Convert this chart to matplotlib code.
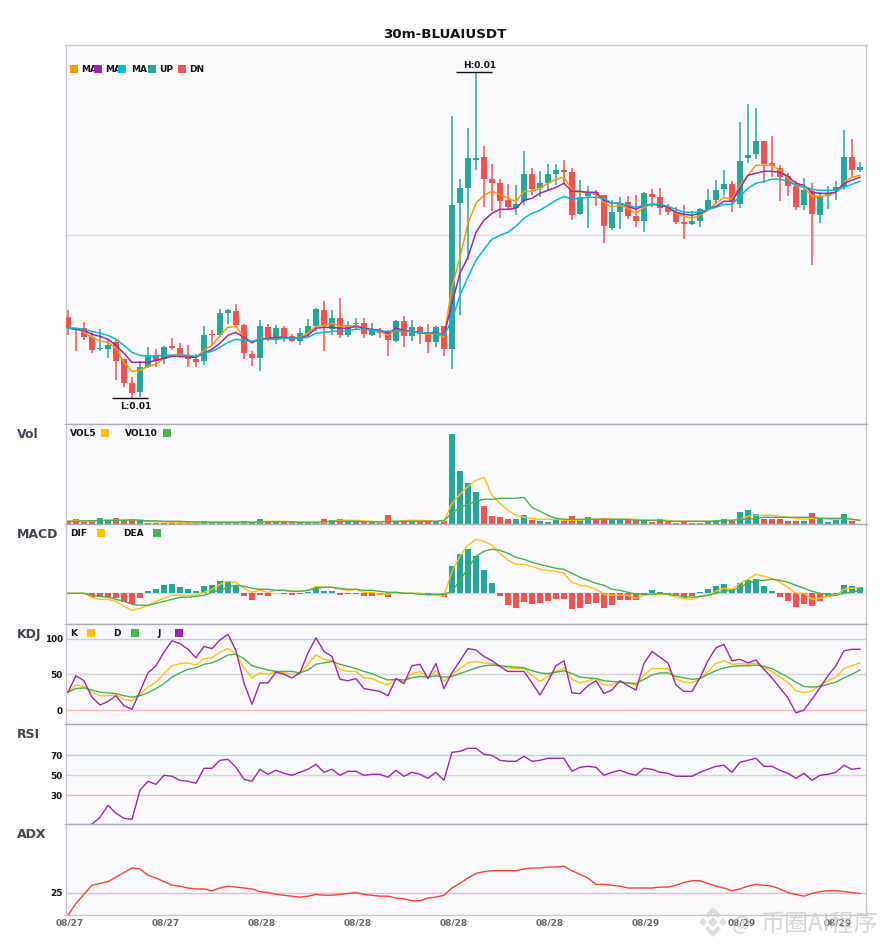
import matplotlib
matplotlib.use("Agg")
import matplotlib.pyplot as plt
from matplotlib.patches import Polygon, Rectangle
import numpy as np

TITLE = "30m-BLUAIUSDT"
X_TICK_POS = [0, 12, 24, 36, 48, 60, 72, 84, 96]
X_TICK_LABELS = ["08/27", "08/27", "08/28", "08/28", "08/28", "08/28", "08/29", "08/29", "08/29"]

# candle values, in chart units (the source chart shows no price scale)
OPEN = [107,96,96,87,75,75,82,65,41,32,57,69,65,78,76,68,65,63,90,89,111,113,99,70,66,97,84,96,88,83,90,98,114,95,
        106,89,100,101,89,94,93,83,103,88,97,91,82,98,75,221,236,264,267,245,241,224,216,223,250,236,241,250,254,252,210,228,232,
        229,196,212,222,208,203,230,227,216,212,202,200,203,215,224,235,240,220,266,270,283,261,256,248,238,219,233,209,228,233,237,267,254]
CLOSE = [96,95,87,74,76,79,63,41,31,57,69,63,77,76,69,65,62,89,89,111,114,99,71,66,98,85,96,87,83,91,98,115,98,106,
         89,99,101,90,95,91,84,103,88,97,90,82,97,75,219,236,266,266,245,241,223,217,220,250,235,241,250,254,252,209,227,232,229,
         198,212,221,208,203,231,227,216,212,202,200,203,215,224,234,240,222,263,269,283,260,258,247,238,217,234,210,228,231,237,267,254,257]
HIGH = [114,96,102,92,95,84,84,65,47,63,77,75,78,86,81,79,70,98,94,115,115,120,100,73,104,100,99,98,90,96,105,116,123,114,
        126,103,106,106,101,96,94,104,108,104,98,100,98,98,308,245,296,352,278,260,245,240,239,273,256,253,260,260,264,256,244,238,234,
        229,224,227,228,229,232,235,236,220,217,219,213,216,235,244,254,243,302,320,316,283,288,259,251,243,246,241,232,238,243,294,285,262]
LOW = [89,73,84,71,73,66,44,37,26,27,56,57,60,74,66,57,57,59,79,87,100,96,65,58,53,83,80,82,82,79,86,93,73,89,
       86,87,95,86,88,86,68,82,77,83,80,71,77,68,55,109,164,254,217,213,206,214,209,219,229,227,234,239,240,204,209,196,218,
       181,194,195,205,197,192,217,209,209,200,185,199,197,214,220,228,212,216,261,265,241,247,223,228,214,214,159,201,215,224,234,246,252]

MA_A = [96,96,92,87,83,82,76,62,53,54,58,60,66,69,70,68,67,74,79,89,97,98,87,81,86,86,87,87,86,87,91,98,99,101,98,
        98,99,96,94,93,89,94,93,93,92,90,91,87,137,167,201,221,229,233,230,226,223,233,233,236,241,245,247,234,232,232,231,
        222,217,219,216,211,217,220,220,217,211,208,206,209,214,221,227,225,239,249,259,259,259,254,246,238,237,228,228,229,232,242,247,249]
MA_B = [96,95,94,90,88,85,79,71,62,62,62,64,66,68,68,67,67,71,75,81,89,92,87,82,85,86,87,87,86,86,89,96,97,97,96,
        96,98,96,95,94,91,96,94,93,92,91,92,89,121,151,167,192,204,211,215,215,216,224,226,231,234,237,241,233,233,232,232,
        224,221,221,218,215,219,220,219,217,212,210,209,211,215,218,223,223,236,249,251,253,253,252,248,241,239,232,231,231,232,241,244,247]
MA_C = [96,96,95,93,91,89,85,79,72,69,68,68,69,69,69,69,68,71,73,77,82,85,84,83,85,85,85,86,86,86,87,91,92,93,93,
        94,95,95,94,93,93,93,93,93,92,91,91,89,104,129,147,164,175,185,189,192,198,206,211,214,219,224,228,225,226,227,227,
        226,221,221,219,217,219,220,220,218,215,212,212,212,215,217,220,220,228,236,241,243,245,245,243,239,238,235,234,234,234,237,240,243]

VOLUME = [3,5,2,3,6,3,6,3,5,4,1.5,1.5,1.5,1,2,2,1,3,2,2,2,2,3,2,5,2,2,2,2,1,1.5,2,5,4,5,2,2,2,2,1,9,3,3,3,3,4,2,3,
          90,53,41,32,18,8,7,5,5,9,4,3,2,4,3,8,4,7,4,6,4,5,5,5,3,2,5,2,1.5,2,1.5,1.5,2,4,5,3,12,14,10,5,5,5,3,3,3,11,5,2,5,10,3,0.5]
VOL5 = [3,4,3.5,3,4,4,4.5,4,4.5,4.5,3,2.5,2.5,2,1.5,1.5,1.5,2,2,2,2,2,2,2,2.5,3,3,3,2.5,2,2,1.5,2,3,4,4,4,3.5,3,2,3,3,3.5,4,4,3.5,3,3,
        21,30,38,44,47,29,21,14,9,7,6,5,5,5,4,4,4,5,5,6,5,5,5,5,4,4,4,4,3,3,3,3,3,3,4,4,5,8,9,9,9,8,7,6,5,6,6,5,5,6,5,4]
VOL10 = [3,3,3.5,3.5,4,4,4,4,4.5,4,3.5,3.5,3,3,3,2.5,2.5,2,2,2,2,2,2,2,2.5,2.5,2.5,2.5,2.5,2,2,2,2.5,3,3,3,3,2.5,2.5,2.5,3,3,3,3,3,3,3,4,
         11,17,20,23,25,25,26,26,26,27,17,13,9,6,5,5,5,5,5,5,5,5,5,4,4,4,4,3,3,3,3,3,3,3,4,4,5,5,6,7,7,7,7,7,7,7,6,6,6,6,5,4]

MACD_HIST = [0,0,0,-4,-4,-4,-5,-9,-11,-5,2,4,8,9,6,4,2,7,8,12,12,8,-3,-7,-2,-3,0,-0.5,-2,-1,1,6,2,2,-2,-0.7,-0.7,-3,-3,-2,-4,0,-1,0,0,-1,0,-4,
             27,39,44,37,23,10,-3,-12,-15,-9,-11,-10,-8,-6,-6,-16,-15,-11,-10,-15,-12,-7,-7,-7,-2,3,1,-1,-3,-5,-3,1,4,7,9,4,10,13,14,7,2,-4,-8,-14,-11,-13,-8,-4,-1,8,7,6]
DIF = [0,0,0,-4,-6,-6,-8,-13,-17,-15,-12,-8,-5,-2,-2,-2,-2,1,4,9,12,11,5,1,3,1,3,3,2,2,3,7,6,6,4,3,4,1,1,-1,-1,1,0,0,0,-2,-2,-3,
       22,37,48,54,52,48,40,33,29,29,27,24,23,22,20,11,8,7,4,-1,-2,-2,-2,-5,-2,-1,-1,-1,-4,-5,-6,-3,-2,2,5,4,10,14,19,17,15,11,6,0,0,-6,-5,-3,-2,4,5,6]
DEA = [0,0,0,-2,-3,-4,-6,-8,-11,-12,-12,-10,-8,-6,-4,-4,-3,-2,1,3,6,8,7,5,4,4,3,3,2,2,3,5,6,6,5,4,4,3,3,2,1,1,0,0,-1,-1,-1,-1,
       2,13,25,37,42,44,43,40,36,34,31,29,27,25,24,20,16,13,10,8,4,3,1,-1,-1,-1,0,-1,-2,-3,-4,-3,-2,0,2,3,6,10,13,13,14,13,11,8,5,2,0,-1,-2,0,1,3]

K = [25,35,33,25,20,20,21,15,13,22,32,39,51,62,65,66,63,72,73,81,86,78,59,45,52,50,54,52,50,52,64,77,71,69,57,54,54,45,44,39,35,44,39,51,54,45,55,40,
     50,58,66,68,66,65,62,59,58,58,49,40,47,54,59,43,38,41,44,35,35,39,38,35,49,58,58,58,44,39,38,44,54,65,69,64,65,64,66,59,54,46,39,27,24,27,35,41,46,58,62,66]
D = [25,30,31,28,25,24,23,20,18,20,24,30,37,46,52,57,59,64,66,71,77,78,72,62,59,56,54,54,54,52,56,64,66,68,64,61,58,54,51,46,42,43,42,45,47,46,48,46,
     47,51,55,59,62,63,62,61,60,59,55,52,51,53,55,51,46,45,44,41,40,39,38,37,43,49,52,52,47,45,43,44,50,55,59,61,62,62,63,61,58,52,46,39,33,32,33,36,39,45,50,56]
J = [25,48,41,18,7,12,20,6,1,26,52,62,81,97,93,85,73,89,86,98,106,83,38,8,38,38,53,50,45,52,80,101,82,75,43,41,44,30,28,26,20,44,37,62,64,44,65,30,
     52,69,86,84,75,69,61,54,54,54,38,21,40,62,69,24,23,34,41,23,28,41,34,28,65,82,74,66,35,26,26,45,69,87,92,69,71,66,70,57,45,31,17,-4,0,15,31,48,62,83,85,85]

RSI = [0,0,0,1,8,20,12,7,6,35,44,41,50,49,45,44,42,57,57,65,66,58,46,44,56,51,55,52,50,53,56,61,53,56,50,54,54,50,51,51,48,55,49,53,51,47,53,45,
       73,74,77,77,71,70,65,64,64,69,64,65,67,67,67,54,58,59,58,50,53,55,52,50,57,56,53,52,49,49,49,53,56,59,60,53,63,65,67,59,59,55,52,47,52,45,50,51,53,60,56,57]
ADX = [0,13,23,33,35,37,42,47,52,51,44,41,37,33,32,30,29,29,27,30,32,31,30,29,26,25,23,22,21,20,21,23,22,22,23,24,25,23,22,21,21,19,18,16,16,19,20,22,
       30,35,41,46,48,49,49,49,49,51,52,52,53,53,54,49,45,41,34,34,33,32,30,30,30,30,31,31,33,36,38,38,35,32,30,27,29,32,34,33,32,29,25,23,21,24,26,27,27,26,25,24]

KDJ_LEVELS = [100, 50, 0]
RSI_LEVELS = [70, 50, 30]
ADX_LEVEL = 25

UP, DOWN = "#26A69A", "#EF5350"
ORANGE, PURPLE, CYAN = "#FF9800", "#9C27B0", "#00BCD4"
YELLOW, GREEN = "#FFC107", "#4CAF50"
HI, LO, MID = "#A9DCD7", "#FFB3B3", "#D3D3D8"
W, H = 885, 950
BG = "#F9F9FB"
EDGE = "#C6C6D0"

x = np.arange(len(OPEN))
is_up = np.array(CLOSE) >= np.array(OPEN)
bar_colors = [UP if u else DOWN for u in is_up]

fig = plt.figure(figsize=(W / 100, H / 100), dpi=100, facecolor="white")
plt.rcParams["font.family"] = ["DejaVu Sans"]


def panel(top, bottom, ylim, hline_dark=True):
    ax = fig.add_axes([65.5 / W, 1 - bottom / H, 800.2 / W, (bottom - top) / H], facecolor=BG)
    ax.set_xlim(-0.31, 99.72)
    ax.set_ylim(*ylim)
    ax.set_xticks([])
    ax.set_yticks([])
    for s in ax.spines.values():
        s.set_color(EDGE)
        s.set_linewidth(1.0)
    ax.spines["top"].set_color("#ABABB5" if hline_dark else EDGE)
    ax.set_yticks(list(ylim), minor=True)
    ax.tick_params(axis="y", which="minor", length=1.5, width=0.7, color=EDGE, left=True, right=True, labelleft=False)
    return ax


def legend(ax_y_px, items):
    for label, tx, color, sx in items:
        fig.text(tx / W, 1 - ax_y_px / H, label, fontsize=6.5, fontweight="bold", color="#111111",
                 va="center", ha="left", zorder=5)
        fig.add_artist(Rectangle((sx / W, 1 - (ax_y_px + 4) / H), 8 / W, 8 / H, transform=fig.transFigure,
                                 facecolor=color, edgecolor="none", zorder=6))


def panel_title(text, y_px):
    fig.text(17 / W, 1 - y_px / H, text, fontsize=9, fontweight="bold", color="#444450", va="center", ha="left")


def levels(ax, values, colors):
    for v, c in zip(values, colors):
        ax.axhline(v, color=c, lw=1.0, zorder=1)
    ax.set_yticks(values)
    ax.set_yticklabels([str(v) for v in values], fontsize=6.4, fontweight="bold", color="#111111")
    ax.tick_params(axis="y", which="major", length=0, pad=2)


# main price panel
ax = panel(45.3, 424.3, (0, 379), hline_dark=False)
ax.axhline(189, color="#DEDEE3", lw=1.0, zorder=1)
ax.vlines(x, LOW, HIGH, colors=bar_colors, lw=1.1, zorder=2)
ax.bar(x, np.abs(np.array(CLOSE) - np.array(OPEN)), bottom=np.minimum(OPEN, CLOSE), width=0.75,
       color=bar_colors, linewidth=0, zorder=3)
ax.plot(x, MA_A, color=ORANGE, lw=1.1, zorder=4)
ax.plot(x, MA_B, color=PURPLE, lw=1.1, zorder=4)
ax.plot(x, MA_C, color=CYAN, lw=1.1, zorder=4)
i_hi, i_lo = int(np.argmax(HIGH)), int(np.argmin(LOW))
for i, v, s, dy in [(i_hi, HIGH[i_hi], "H:0.01", 6.5), (i_lo, LOW[i_lo], "L:0.01", -8.5)]:
    ax.plot([i - 2.5, i + 2], [v, v], color="#111111", lw=1.0, zorder=5, solid_capstyle="butt")
    ax.annotate(s, xy=(i, v), xytext=(3, dy * 0.72), textcoords="offset points", ha="center", va="center",
                fontsize=6.5, fontweight="bold", color="#111111")
legend(69, [("MA", 81, ORANGE, 70), ("MA", 105, PURPLE, 94), ("MA", 131, CYAN, 118),
            ("UP", 159, UP, 148), ("DN", 189, DOWN, 178)])
fig.text(444.5 / W, 1 - 34.5 / H, TITLE, fontsize=9.6, fontweight="bold", color="#111111", ha="center", va="center")

# volume
ax = panel(424.3, 524.3, (0, 100))
ax.bar(x, VOLUME, width=0.75, color=bar_colors, linewidth=0, zorder=2)
ax.plot(x, VOL5, color=YELLOW, lw=1.0, zorder=3)
ax.plot(x, VOL10, color=GREEN, lw=1.0, zorder=3)
panel_title("Vol", 434.5)
legend(433, [("VOL5", 70, YELLOW, 101), ("VOL10", 125, GREEN, 163)])

# MACD
ax = panel(524.3, 624.3, (-31, 69))
ax.axhline(0, color="#D8D8DD", lw=1.0, zorder=1)
ax.bar(x, MACD_HIST, width=0.75, color=[UP if v >= 0 else DOWN for v in MACD_HIST], linewidth=0, zorder=2)
ax.plot(x, DIF, color=YELLOW, lw=1.0, zorder=3)
ax.plot(x, DEA, color=GREEN, lw=1.0, zorder=3)
panel_title("MACD", 534.5)
legend(533, [("DIF", 70, YELLOW, 97), ("DEA", 123, GREEN, 153)])

# KDJ
ax = panel(624.3, 724.3, (-20, 120))
levels(ax, KDJ_LEVELS, [HI, MID, LO])
ax.plot(x, K, color=YELLOW, lw=1.0, zorder=3)
ax.plot(x, D, color=GREEN, lw=1.0, zorder=3)
ax.plot(x, J, color=PURPLE, lw=1.0, zorder=3)
panel_title("KDJ", 634.5)
legend(633, [("K", 70, YELLOW, 87), ("D", 113, GREEN, 131), ("J", 157, PURPLE, 175)])

# RSI
ax = panel(724.3, 824.3, (1, 101))
levels(ax, RSI_LEVELS, [HI, MID, LO])
ax.plot(x, RSI, color=PURPLE, lw=1.0, zorder=3)
panel_title("RSI", 734.5)

# ADX
ax = panel(824.3, 915.3, (0, 100))
levels(ax, [ADX_LEVEL], ["#E2B5EA"])
ax.plot(x, ADX, color="#F44336", lw=1.0, zorder=3)
panel_title("ADX", 834.5)
ax.set_xticks(X_TICK_POS)
ax.set_xticklabels(X_TICK_LABELS, fontsize=6.5, fontweight="bold", color="#666666")
ax.tick_params(axis="x", length=0, pad=2)
for lab in ax.get_xticklabels():
    lab.set_transform(lab.get_transform() + matplotlib.transforms.ScaledTranslation(2 / 100, 0, fig.dpi_scale_trans))

# watermark
wm = "#CFCFD2"
cx, cy = 713, 922


def px_poly(pts, **kw):
    fig.add_artist(Polygon([(a / W, 1 - b / H) for a, b in pts], closed=True, transform=fig.transFigure, **kw))


px_poly([(cx, cy - 5), (cx + 5, cy), (cx, cy + 5), (cx - 5, cy)], facecolor=wm, edgecolor="none", alpha=0.7, zorder=10)
for pts in ([(cx, cy - 15), (cx + 8, cy - 7), (cx + 5, cy - 4), (cx, cy - 9), (cx - 5, cy - 4), (cx - 8, cy - 7)],
            [(cx, cy + 15), (cx + 8, cy + 7), (cx + 5, cy + 4), (cx, cy + 9), (cx - 5, cy + 4), (cx - 8, cy + 7)],
            [(cx - 14, cy), (cx - 10, cy - 4), (cx - 6, cy), (cx - 10, cy + 4)],
            [(cx + 14, cy), (cx + 10, cy - 4), (cx + 6, cy), (cx + 10, cy + 4)]):
    px_poly(pts, facecolor=wm, edgecolor="none", alpha=0.7, zorder=10)
fig.text(732 / W, 1 - 924 / H, "@", fontsize=14, color=wm, alpha=0.85, ha="left", va="center", zorder=10,
         family=["Noto Sans CJK SC", "DejaVu Sans"])
fig.text(760 / W, 1 - 924 / H, "币圈AI程序", fontsize=17.3, color=wm, alpha=0.85, ha="left", va="center", zorder=10,
         family=["Noto Sans CJK SC", "DejaVu Sans"])

fig.savefig("out.png", dpi=100, facecolor="white")
